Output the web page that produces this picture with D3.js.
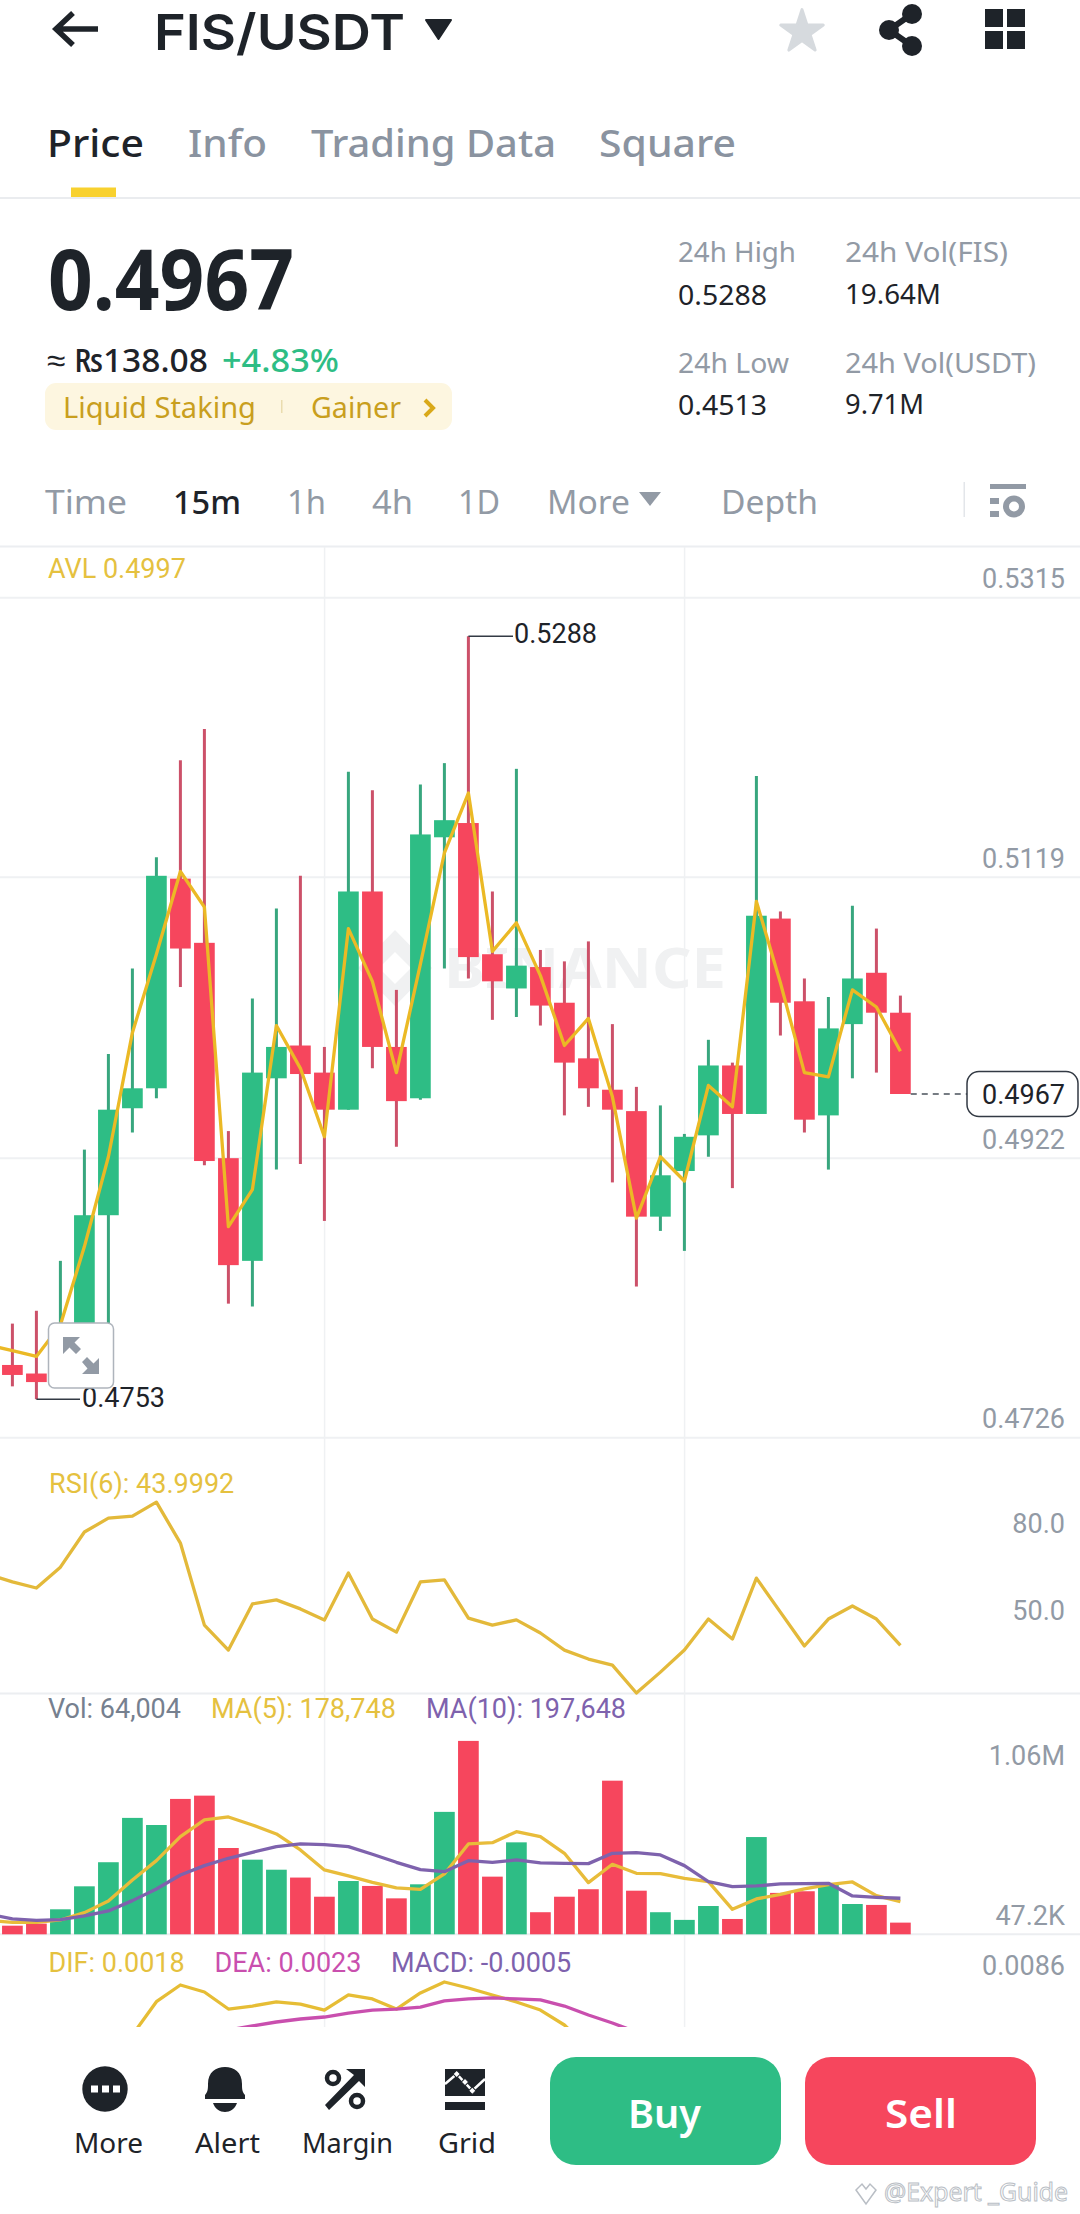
<!DOCTYPE html>
<html lang="en">

<head>
    <meta charset="UTF-8">
    <title>FIS/USDT</title>
    <script src="https://d3js.org/d3.v7.min.js"></script>
    <style>
        html, body { margin: 0; padding: 0; background: #fff; }
        svg { display: block; }
        .tick line, .domain { display: none; }
    </style>
</head>

<body>
    <svg width="1080" height="2214"></svg>

    <script>
        // first candle sits just off the left edge, only its lines show
        const opens = [0.4780, 0.4777, 0.4771, 0.4774, 0.4802, 0.4882, 0.4957, 0.4971, 0.5118, 0.5073, 0.4922, 0.4850, 0.4978, 0.5001, 0.4982, 0.4956, 0.5109, 0.5000, 0.4964, 0.5147, 0.5157, 0.5065, 0.5041, 0.5056, 0.5031, 0.4992, 0.4970, 0.4955, 0.4881, 0.4913, 0.4938, 0.4987, 0.4953, 0.5090, 0.5032, 0.4952, 0.5016, 0.5052, 0.5024];
        const highs = [0.4800, 0.4806, 0.4815, 0.4850, 0.4928, 0.4995, 0.5055, 0.5133, 0.5201, 0.5223, 0.4941, 0.5034, 0.5097, 0.5120, 0.5000, 0.5193, 0.5180, 0.5040, 0.5184, 0.5199, 0.5288, 0.5109, 0.5195, 0.5068, 0.5060, 0.5074, 0.5016, 0.4972, 0.4959, 0.4939, 0.5005, 0.4989, 0.5190, 0.5095, 0.5048, 0.5035, 0.5099, 0.5083, 0.5036];
        const lows = [0.4760, 0.4762, 0.4753, 0.4770, 0.4798, 0.4798, 0.4940, 0.4964, 0.5042, 0.4917, 0.4820, 0.4818, 0.4914, 0.4918, 0.4878, 0.4956, 0.4985, 0.4930, 0.4963, 0.5055, 0.5048, 0.5019, 0.5021, 0.5015, 0.4952, 0.4958, 0.4905, 0.4832, 0.4871, 0.4857, 0.4923, 0.4901, 0.4953, 0.5008, 0.4940, 0.4914, 0.4978, 0.4982, 0.4967];
        const closes = [0.4772, 0.4770, 0.4765, 0.4791, 0.4882, 0.4956, 0.4971, 0.5120, 0.5069, 0.4920, 0.4847, 0.4982, 0.5000, 0.4981, 0.4956, 0.5109, 0.5000, 0.4962, 0.5149, 0.5159, 0.5063, 0.5046, 0.5057, 0.5029, 0.4989, 0.4971, 0.4956, 0.4881, 0.4910, 0.4937, 0.4987, 0.4953, 0.5092, 0.5031, 0.4949, 0.5013, 0.5048, 0.5024, 0.4967];
        const avlLine = [0.4791, 0.4787, 0.4783, 0.4805, 0.4860, 0.4923, 0.5010, 0.5065, 0.5123, 0.5098, 0.4874, 0.4900, 0.5015, 0.4985, 0.4937, 0.5083, 0.5046, 0.4982, 0.5058, 0.5136, 0.5178, 0.5067, 0.5087, 0.5050, 0.5001, 0.5020, 0.4965, 0.4880, 0.4923, 0.4906, 0.4973, 0.4958, 0.5102, 0.5045, 0.4982, 0.4979, 0.5040, 0.5028, 0.4997];
        const rsi6 = [68.5, 65.9, 63.8, 71.0, 83.1, 87.9, 88.6, 93.4, 79.3, 51.0, 42.4, 58.3, 59.7, 56.6, 52.8, 69.0, 53.1, 48.6, 65.9, 66.6, 53.4, 51.0, 52.8, 48.3, 42.4, 39.3, 37.2, 27.6, 34.8, 42.4, 53.1, 46.2, 67.2, 55.5, 43.8, 53.1, 57.6, 53.1, 43.9992];
        const volumes = [120000, 47200, 58500, 137000, 263000, 395000, 638000, 599000, 742000, 760000, 473000, 409000, 354000, 311000, 206000, 292000, 265000, 197000, 274000, 671000, 1060000, 316000, 504000, 121000, 206000, 247000, 842000, 239000, 121000, 79000, 155000, 84000, 533000, 227000, 236000, 270000, 166000, 161000, 64004];
        const ma5 = [74900, 65800, 65800, 78600, 118800, 182700, 297800, 403800, 535300, 626700, 643100, 599300, 549900, 462200, 352600, 319700, 285000, 254000, 246600, 330700, 495100, 502400, 562700, 535300, 444000, 283200, 383700, 334300, 332500, 306900, 288700, 137000, 193700, 219200, 248500, 272200, 286800, 211900, 178748];
        const ma10 = [111400, 84000, 76700, 80400, 100500, 127900, 184500, 248500, 325200, 376400, 416600, 449400, 480500, 495100, 491500, 480500, 438500, 394600, 354400, 343500, 403800, 394600, 407400, 391000, 389200, 387300, 444000, 447600, 434800, 376400, 288700, 261300, 264900, 275900, 277700, 279500, 210100, 202800, 197648];
        // only the top of the MACD pane is on screen, so these start part way in
        const difStart = 5;
        const dif = [0, 0.00276, 0.00643, 0.00827, 0.0075, 0.00562, 0.00595, 0.0064, 0.00617, 0.00551, 0.00717, 0.00673, 0.00562, 0.00739, 0.0086, 0.00794, 0.00717, 0.0064, 0.00551, 0.00386, 0.00132];
        const deaStart = 9;
        const dea = [0.00265, 0.00331, 0.00375, 0.00419, 0.00452, 0.00474, 0.00518, 0.00551, 0.00562, 0.00584, 0.00651, 0.00673, 0.00684, 0.00673, 0.00662, 0.00595, 0.00496, 0.00408, 0.00309, 0.00198];

        const priceTicks = [0.5315, 0.5119, 0.4922, 0.4726];
        const rsiTicks = [80, 50];
        const volTicks = [1060000, 47200];
        const volTickLabels = ["1.06M", "47.2K"];
        const macdTicks = [0.0086];
        const lastPrice = 0.4967;
        const highPrice = 0.5288;
        const lowPrice = 0.4753;

        const GREEN = "#2ebd85", RED = "#f6465d", GREEN_WICK = "#38a67e", RED_WICK = "#cc5169";
        const DARK = "#1e2329", GRAY = "#929aa5", GRID = "#eff1f3", YELLOW = "#e5c13f", PURPLE = "#7e62ad", PINK = "#c94fae";
        const UI_FONT = "'Noto Sans', sans-serif", CHART_FONT = "Roboto, sans-serif";
        const CHART_SIZE = 27;

        const svg = d3.select("svg");
        const idx = d3.range(opens.length);

        const x = d3.scaleLinear().domain([0, 38]).range([-11.6, 900.4]);
        const yPrice = d3.scaleLinear().domain([0.4726, 0.5315]).range([1437.7, 597.7]);
        const yRsi = d3.scaleLinear().domain([27.6, 115.6]).range([1693, 1437.8]);
        const yVol = d3.scaleLinear().domain([0, 1060000]).range([1934.3, 1740.9]);
        const yMacd = d3.scaleLinear().domain([0, 0.0086]).range([2060, 1982]);
        const bodyW = 20.7;

        // text helper, width squeezes the glyphs to what was measured on the picture
        function label(s, px, py, size, fill, opt = {}) {
            const t = svg.append("text")
                .attr("x", px).attr("y", py)
                .attr("font-size", size)
                .attr("font-family", opt.font || UI_FONT)
                .attr("font-weight", opt.weight || 400)
                .attr("text-anchor", opt.anchor || "start")
                .attr("fill", fill)
                .text(s);
            if (opt.width) t.attr("textLength", opt.width + 3).attr("lengthAdjust", "spacingAndGlyphs");
            return t;
        }

        // ---- header ----
        svg.append("path").attr("d", "M98,29 H57 M73,13 L56,29 L73,45").attr("fill", "none")
            .attr("stroke", DARK).attr("stroke-width", 5.5);
        label("FIS/USDT", 154, 50, 50, DARK, { weight: 600, width: 248, font: "Inter, sans-serif" });
        svg.append("path").attr("d", "M426,20 H451 L438.5,39 Z").attr("fill", DARK)
            .attr("stroke", DARK).attr("stroke-width", 2).attr("stroke-linejoin", "round");
        svg.append("path").attr("d", d3.symbol(d3.symbolStar, 560)())
            .attr("transform", "translate(802,32)").attr("fill", "#d6dade")
            .attr("stroke", "#d6dade").attr("stroke-width", 3).attr("stroke-linejoin", "round");
        svg.append("path").attr("d", "M912,14 L889,30 L912,46").attr("fill", "none").attr("stroke", DARK).attr("stroke-width", 6);
        [[912, 14], [889, 30], [912, 46]].forEach(c => {
            svg.append("circle").attr("cx", c[0]).attr("cy", c[1]).attr("r", 10).attr("fill", DARK);
        });
        [[985, 9], [1007, 9], [985, 31], [1007, 31]].forEach(c => {
            svg.append("rect").attr("x", c[0]).attr("y", c[1]).attr("width", 18).attr("height", 18).attr("fill", DARK);
        });

        // tabs
        label("Price", 47, 157, 38, DARK, { weight: 500, width: 94 });
        label("Info", 188, 157, 38, "#8a93a0", { weight: 500, width: 76 });
        label("Trading Data", 311, 157, 38, "#8a93a0", { weight: 500, width: 242 });
        label("Square", 599, 157, 38, "#8a93a0", { weight: 500, width: 134 });
        svg.append("rect").attr("x", 71).attr("y", 187.5).attr("width", 45).attr("height", 10).attr("fill", "#f8d12f");
        svg.append("rect").attr("x", 0).attr("y", 197).attr("width", 1080).attr("height", 2).attr("fill", "#eaecef");

        // price block
        label("0.4967", 48, 310, 84, DARK, { weight: 700, width: 243 });
        label("≈ ₨138.08", 47, 372, 33, DARK, { weight: 500, width: 158 });
        label("+4.83%", 222, 372, 33, GREEN, { weight: 500, width: 114 });
        svg.append("rect").attr("x", 45).attr("y", 383).attr("width", 407).attr("height", 47).attr("rx", 11).attr("fill", "#fdf6e0");
        label("Liquid Staking", 63, 418, 29, "#c99f1e", { width: 190 });
        svg.append("rect").attr("x", 281).attr("y", 400).attr("width", 1.5).attr("height", 13).attr("fill", "#eadcae");
        label("Gainer", 311, 418, 29, "#c99f1e", { width: 87 });
        svg.append("path").attr("d", "M425,400 L433,408 L425,416").attr("fill", "none").attr("stroke", "#d9a91a").attr("stroke-width", 4);

        // 24h stats
        label("24h High", 678, 262, 28, GRAY, { width: 115 });
        label("0.5288", 678, 305, 28, DARK, { width: 86 });
        label("24h Vol(FIS)", 845, 262, 28, GRAY, { width: 160 });
        label("19.64M", 845, 303.5, 28, DARK, { width: 93 });
        label("24h Low", 678, 372.5, 28, GRAY, { width: 108 });
        label("0.4513", 678, 415, 28, DARK, { width: 86 });
        label("24h Vol(USDT)", 845, 372.5, 28, GRAY, { width: 188 });
        label("9.71M", 845, 413.5, 28, DARK, { width: 76 });

        // interval row
        label("Time", 45, 514, 33, GRAY, { width: 79 });
        label("15m", 173, 514, 33, DARK, { weight: 500, width: 65 });
        label("1h", 287, 514, 33, GRAY, { width: 36 });
        label("4h", 372, 514, 33, GRAY, { width: 38 });
        label("1D", 458, 514, 33, GRAY, { width: 39 });
        label("More", 547, 514, 33, GRAY, { width: 80 });
        svg.append("path").attr("d", "M639,492 H661 L650,506 Z").attr("fill", GRAY);
        label("Depth", 721, 514, 33, GRAY, { width: 94 });
        svg.append("rect").attr("x", 963.5).attr("y", 482).attr("width", 1.5).attr("height", 35).attr("fill", "#e3e6ea");
        svg.append("rect").attr("x", 990).attr("y", 484).attr("width", 36).attr("height", 5).attr("fill", GRAY);
        svg.append("rect").attr("x", 990).attr("y", 498).attr("width", 9).attr("height", 6).attr("fill", GRAY);
        svg.append("rect").attr("x", 990).attr("y", 511).attr("width", 9).attr("height", 6).attr("fill", GRAY);
        svg.append("circle").attr("cx", 1014).attr("cy", 506.5).attr("r", 8).attr("fill", "none").attr("stroke", GRAY).attr("stroke-width", 6);

        // ---- panes ----
        const grid = svg.append("g");
        [546.5, 1693.5].forEach(v => {
            grid.append("line").attr("x1", 0).attr("x2", 1080).attr("y1", v).attr("y2", v)
                .attr("stroke", "#eceef1").attr("stroke-width", 2);
        });
        grid.selectAll(".hgrid").data(priceTicks).join("line")
            .attr("x1", 0).attr("x2", 1080)
            .attr("y1", d => yPrice(d)).attr("y2", d => yPrice(d))
            .attr("stroke", GRID).attr("stroke-width", 2);
        grid.append("line").attr("x1", 0).attr("x2", 1080).attr("y1", yVol(0)).attr("y2", yVol(0))
            .attr("stroke", "#eceef1").attr("stroke-width", 2);
        [324.6, 684.6].forEach(v => {
            grid.append("line").attr("x1", v).attr("x2", v).attr("y1", 547).attr("y2", 2027)
                .attr("stroke", GRID).attr("stroke-width", 1.5);
        });

        // faint logo behind the candles
        const wm = svg.append("g").attr("fill", "#f0f1f2");
        wm.append("text").attr("x", 444).attr("y", 988).attr("font-size", 56)
            .attr("font-family", UI_FONT).attr("font-weight", 700)
            .attr("textLength", 282).attr("lengthAdjust", "spacingAndGlyphs").text("BINANCE");
        wm.append("path").attr("d", "M395,930 L432,968 L395,1006 L358,968 Z M395,952 L379,968 L395,984 L411,968 Z")
            .attr("fill-rule", "evenodd");

        // candles
        const candles = svg.append("g");
        candles.selectAll(".wick").data(idx).join("line")
            .attr("x1", d => x(d)).attr("x2", d => x(d))
            .attr("y1", d => yPrice(highs[d])).attr("y2", d => yPrice(lows[d]))
            .attr("stroke", d => closes[d] >= opens[d] ? GREEN_WICK : RED_WICK)
            .attr("stroke-width", 3);
        candles.selectAll(".body").data(idx).join("rect")
            .attr("x", d => x(d) - bodyW / 2)
            .attr("width", bodyW)
            .attr("y", d => yPrice(Math.max(opens[d], closes[d])))
            .attr("height", d => Math.abs(yPrice(opens[d]) - yPrice(closes[d])))
            .attr("fill", d => closes[d] >= opens[d] ? GREEN : RED);

        const lineOf = (vals, yScale, start = 0) => d3.line()
            .x((d, i) => x(i + start)).y(d => yScale(d))(vals);

        function series(vals, yScale, color, start = 0, parent = svg) {
            parent.append("path")
                .attr("d", lineOf(vals, yScale, start))
                .attr("fill", "none")
                .attr("stroke", color)
                .attr("stroke-width", 3.3)
                .attr("stroke-linejoin", "round");
        }
        series(avlLine, yPrice, "#ebb925");

        // high and low markers
        const lead = svg.append("g").attr("stroke", "#333a44").attr("stroke-width", 1.5).attr("fill", "none");
        lead.append("line").attr("x1", x(20)).attr("x2", 513).attr("y1", yPrice(highPrice)).attr("y2", yPrice(highPrice));
        lead.append("line").attr("x1", x(2)).attr("x2", 80).attr("y1", yPrice(lowPrice)).attr("y2", yPrice(lowPrice));
        label(highPrice.toFixed(4), 514, yPrice(highPrice) + 7, CHART_SIZE, DARK, { font: CHART_FONT });
        label(lowPrice.toFixed(4), 82, yPrice(lowPrice) + 8, CHART_SIZE, DARK, { font: CHART_FONT });

        // expand button
        svg.append("rect").attr("x", 48.5).attr("y", 1323).attr("width", 65).attr("height", 65).attr("rx", 6)
            .attr("fill", "#fff").attr("stroke", "#aeb4bc").attr("stroke-width", 1.5);
        svg.append("path").attr("fill", GRAY)
            .attr("d", "M63,1337 H80 L74.5,1342.5 L81,1349 L76,1354 L69.5,1347.5 L63,1354 Z M99,1374 H82 L87.5,1368.5 L82,1362 L87,1357 L93.5,1363.5 L99,1358 Z");

        // last price tag
        svg.append("line").attr("x1", x(38) + bodyW / 2).attr("x2", 967)
            .attr("y1", yPrice(lastPrice)).attr("y2", yPrice(lastPrice))
            .attr("stroke", "#4a515b").attr("stroke-width", 1.5).attr("stroke-dasharray", "6 5");
        svg.append("rect").attr("x", 967).attr("y", 1071.5).attr("width", 111).attr("height", 45).attr("rx", 12)
            .attr("fill", "#fff").attr("stroke", "#333a44").attr("stroke-width", 1.5);
        label(lastPrice.toFixed(4), 1065, 1104, CHART_SIZE, DARK, { font: CHART_FONT, anchor: "end" });

        // value axes, labels sit just above their level
        function sideAxis(scale, values, fmt, dy) {
            const g = svg.append("g").attr("transform", "translate(1065,0)")
                .call(d3.axisLeft(scale).tickValues(values).tickFormat(fmt).tickSize(0).tickPadding(0));
            g.selectAll("text").attr("font-family", CHART_FONT).attr("font-size", CHART_SIZE).attr("fill", GRAY)
                .attr("dy", dy);
            return g;
        }
        sideAxis(yPrice, priceTicks, d3.format(".4f"), "-10");
        sideAxis(yRsi, rsiTicks, d3.format(".1f"), "-9");
        sideAxis(yVol, volTicks, (d, i) => volTickLabels[i], (d, i) => i === 0 ? "24" : "-1.5");
        sideAxis(yMacd, macdTicks, d3.format(".4f"), "-8");

        label("AVL 0.4997", 48, 578, CHART_SIZE, YELLOW, { font: CHART_FONT });

        // RSI
        label("RSI(6): 43.9992", 49, 1493, CHART_SIZE, YELLOW, { font: CHART_FONT });
        series(rsi6, yRsi, "#e3b93a");

        // volume
        svg.selectAll(".vol").data(idx).join("rect")
            .attr("x", d => x(d) - bodyW / 2)
            .attr("width", bodyW)
            .attr("y", d => yVol(volumes[d]))
            .attr("height", d => yVol(0) - yVol(volumes[d]))
            .attr("fill", d => closes[d] >= opens[d] ? GREEN : RED);
        series(ma5, yVol, "#e8bc3a");
        series(ma10, yVol, PURPLE);
        label("Vol: 64,004", 48, 1718, CHART_SIZE, "#76808f", { font: CHART_FONT });
        label("MA(5): 178,748", 211, 1718, CHART_SIZE, YELLOW, { font: CHART_FONT });
        label("MA(10): 197,648", 426, 1718, CHART_SIZE, PURPLE, { font: CHART_FONT });

        // MACD, cut off by the bottom bar
        svg.append("clipPath").attr("id", "macdClip").append("rect")
            .attr("x", 0).attr("y", 1936).attr("width", 1080).attr("height", 91);
        const macd = svg.append("g").attr("clip-path", "url(#macdClip)");
        series(dif, yMacd, "#e6bd35", difStart, macd);
        series(dea, yMacd, PINK, deaStart, macd);
        label("DIF: 0.0018", 48.5, 1972, CHART_SIZE, YELLOW, { font: CHART_FONT });
        label("DEA: 0.0023", 214.5, 1972, CHART_SIZE, PINK, { font: CHART_FONT });
        label("MACD: -0.0005", 391, 1972, CHART_SIZE, PURPLE, { font: CHART_FONT });

        // ---- bottom bar ----
        svg.append("circle").attr("cx", 105).attr("cy", 2089).attr("r", 22.7).attr("fill", DARK);
        [91, 102, 113].forEach(v => {
            svg.append("rect").attr("x", v).attr("y", 2085.5).attr("width", 7).attr("height", 7).attr("fill", "#fff");
        });
        svg.append("path").attr("fill", DARK)
            .attr("d", "M205,2099 V2095 C208,2092 208,2088 208,2084 C208,2072 216,2067 225,2067 C234,2067 242,2072 242,2084 C242,2088 242,2092 245,2095 V2099 Z M213,2103 H237 C235,2109 230,2112 225,2112 C220,2112 215,2109 213,2103 Z");
        svg.append("path").attr("fill", DARK)
            .attr("d", "M325,2105 L354,2075 L346,2069 H365 V2087 L359,2081 L329,2110 Z");
        svg.append("circle").attr("cx", 333).attr("cy", 2078).attr("r", 6).attr("fill", "none").attr("stroke", DARK).attr("stroke-width", 4.5);
        svg.append("circle").attr("cx", 357).attr("cy", 2101).attr("r", 6).attr("fill", "none").attr("stroke", DARK).attr("stroke-width", 4.5);
        svg.append("rect").attr("x", 445).attr("y", 2069).attr("width", 40).attr("height", 27).attr("fill", DARK);
        svg.append("rect").attr("x", 445).attr("y", 2102).attr("width", 40).attr("height", 8).attr("fill", DARK);
        svg.append("path").attr("d", "M445,2084 L456.7,2074 L472.3,2090.7 L485,2079").attr("fill", "none").attr("stroke", "#fff").attr("stroke-width", 2.5);
        [[456.7, 2074], [465, 2082], [472.3, 2090.7]].forEach(c => {
            svg.append("rect").attr("x", c[0] - 2.6).attr("y", c[1] - 2.6).attr("width", 5.2).attr("height", 5.2)
                .attr("transform", `rotate(45 ${c[0]} ${c[1]})`)
                .attr("fill", "#fff").attr("stroke", DARK).attr("stroke-width", 1);
        });
        label("More", 74, 2152.7, 28, DARK, { width: 66 });
        label("Alert", 195, 2152.7, 28, DARK, { width: 62 });
        label("Margin", 302, 2152.7, 28, DARK, { width: 88 });
        label("Grid", 438, 2152.7, 28, DARK, { width: 55 });

        svg.append("rect").attr("x", 550).attr("y", 2057).attr("width", 231).attr("height", 108).attr("rx", 26).attr("fill", GREEN);
        svg.append("rect").attr("x", 805).attr("y", 2057).attr("width", 231).attr("height", 108).attr("rx", 26).attr("fill", RED);
        label("Buy", 628, 2128, 40, "#fff", { weight: 600, width: 70 });
        label("Sell", 885, 2128, 40, "#fff", { weight: 600, width: 69 });

        // site watermark in the corner
        label("@Expert _Guide", 884, 2201, 25, "#fff", { width: 181 })
            .attr("stroke", "#b9bec5").attr("stroke-width", 1);
        svg.append("path").attr("d", "M856,2190 L862,2184 L866,2189 L870,2184 L876,2190 L866,2204 Z")
            .attr("fill", "#fff").attr("stroke", "#b9bec5").attr("stroke-width", 1.5);
    </script>
</body>

</html>
